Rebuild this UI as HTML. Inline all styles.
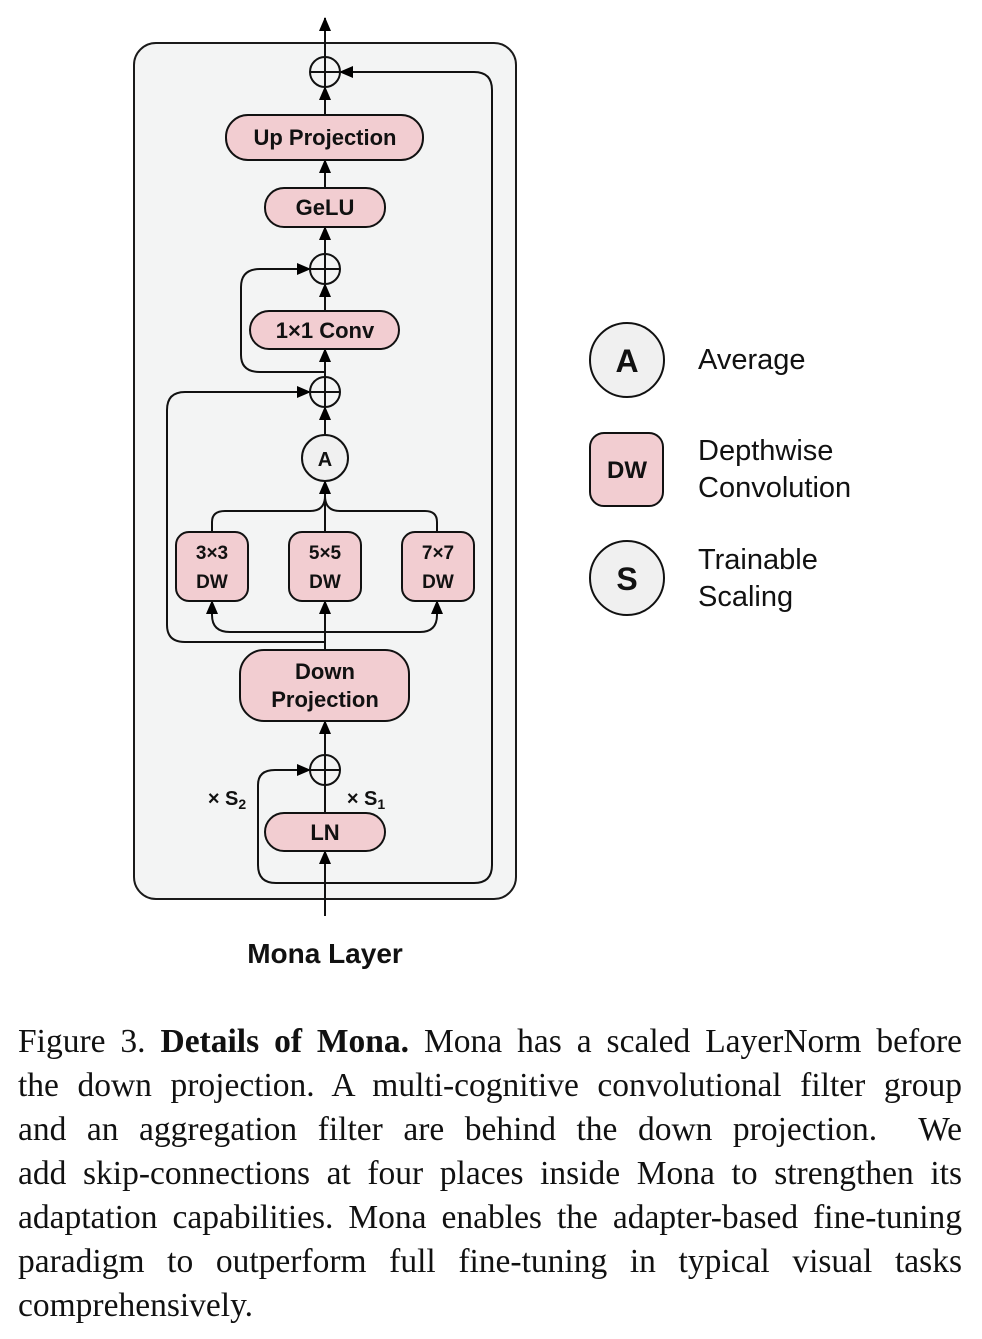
<!DOCTYPE html>
<html><head><meta charset="utf-8"><style>
body{margin:0;background:#fff;width:982px;height:1339px;overflow:hidden;position:relative}
svg{position:absolute;left:0;top:0}
.cap{position:absolute;left:18px;top:1020px;width:944px;font-family:"Liberation Serif",serif;font-size:33.5px;line-height:44px;color:#111}
.cap div{text-align:justify;text-align-last:justify;white-space:nowrap}
.cap div.l{text-align-last:left}
</style></head><body>
<svg width="982" height="1000" viewBox="0 0 982 1000">
<defs>
<marker id="a2" viewBox="0 0 14 14" markerWidth="14" markerHeight="14" refX="13" refY="7" orient="auto" markerUnits="userSpaceOnUse"><path d="M0,1 L14,7 L0,13 z" fill="#000"/></marker></defs>
<rect x="134" y="43" width="382" height="856" rx="22" fill="#f3f4f4" stroke="#1a1a1a" stroke-width="2"/>
<g stroke="#111" stroke-width="2" fill="none" font-family="Liberation Sans,sans-serif">
<line x1="325" y1="916" x2="325" y2="851" marker-end="url(#a2)"/>
<line x1="325" y1="813" x2="325" y2="785"/>
<line x1="325" y1="755" x2="325" y2="721" marker-end="url(#a2)"/>
<line x1="325" y1="650" x2="325" y2="601" marker-end="url(#a2)"/>
<path d="M325,632 H230 Q212,632 212,615 V601" marker-end="url(#a2)"/>
<path d="M325,632 H420 Q437,632 437,615 V601" marker-end="url(#a2)"/>
<path d="M325,642 H185 Q167,642 167,625 V410 Q167,392 185,392 H310" marker-end="url(#a2)"/>
<path d="M212,532 V522 Q212,511 225,511 H310 Q325,511 325,496"/>
<path d="M437,532 V522 Q437,511 425,511 H340 Q325,511 325,496"/>
<line x1="325" y1="532" x2="325" y2="481" marker-end="url(#a2)"/>
<line x1="325" y1="435" x2="325" y2="407" marker-end="url(#a2)"/>
<line x1="325" y1="377" x2="325" y2="349" marker-end="url(#a2)"/>
<path d="M325,372 H260 Q241,372 241,355 V287 Q241,269 260,269 H310" marker-end="url(#a2)"/>
<line x1="325" y1="311" x2="325" y2="284" marker-end="url(#a2)"/>
<line x1="325" y1="254" x2="325" y2="227" marker-end="url(#a2)"/>
<line x1="325" y1="188" x2="325" y2="160" marker-end="url(#a2)"/>
<line x1="325" y1="115" x2="325" y2="87" marker-end="url(#a2)"/>
<line x1="325" y1="57" x2="325" y2="18" marker-end="url(#a2)"/>
<path d="M258,800 V785 Q258,770 275,770 H310" marker-end="url(#a2)"/>
<path d="M258,800 V865 Q258,883 276,883 H474 Q492,883 492,865 V90 Q492,72 474,72 H340" marker-end="url(#a2)"/>
<g fill="#f3f4f4">
<circle cx="325" cy="72" r="15"/><circle cx="325" cy="269" r="15"/><circle cx="325" cy="392" r="15"/><circle cx="325" cy="770" r="15"/>
</g>
<path d="M310,72H340M325,57V87M310,269H340M325,254V284M310,392H340M325,377V407M310,770H340M325,755V785"/>
<circle cx="325" cy="458" r="23" fill="#f0f0f0"/>
<g fill="#f2cdd1">
<rect x="226" y="115" width="197" height="45" rx="22"/>
<rect x="265" y="188" width="120" height="39" rx="19"/>
<rect x="250" y="311" width="149" height="38" rx="19"/>
<rect x="176" y="532" width="72" height="69" rx="13"/>
<rect x="289" y="532" width="72" height="69" rx="13"/>
<rect x="402" y="532" width="72" height="69" rx="13"/>
<rect x="240" y="650" width="169" height="71" rx="24"/>
<rect x="265" y="813" width="120" height="38" rx="19"/>
<rect x="590" y="433" width="73" height="73" rx="14"/>
</g>
<circle cx="627" cy="360" r="37" fill="#f0f0f0"/>
<circle cx="627" cy="578" r="37" fill="#f0f0f0"/>
</g>
<g font-family="Liberation Sans,sans-serif" font-weight="bold" fill="#111" text-anchor="middle" font-size="22">
<text x="325" y="145">Up Projection</text>
<text x="325" y="215">GeLU</text>
<text x="325" y="338">1×1 Conv</text>
<text x="325" y="466" font-size="20">A</text>
<text x="212" y="559" font-size="19">3×3</text><text x="212" y="588" font-size="19">DW</text>
<text x="325" y="559" font-size="19">5×5</text><text x="325" y="588" font-size="19">DW</text>
<text x="438" y="559" font-size="19">7×7</text><text x="438" y="588" font-size="19">DW</text>
<text x="325" y="679">Down</text><text x="325" y="707">Projection</text>
<text x="325" y="840">LN</text>
<text x="227" y="805" font-size="20">× S<tspan font-size="14" dy="4">2</tspan></text>
<text x="366" y="805" font-size="20">× S<tspan font-size="14" dy="4">1</tspan></text>
<text x="325" y="963" font-size="28">Mona Layer</text>
<text x="627" y="372" font-size="32">A</text>
<text x="627" y="478" font-size="24">DW</text>
<text x="627" y="590" font-size="32">S</text>
</g>
<g font-family="Liberation Sans,sans-serif" fill="#111" font-size="29">
<text x="698" y="369">Average</text>
<text x="698" y="460">Depthwise</text><text x="698" y="497">Convolution</text>
<text x="698" y="569">Trainable</text><text x="698" y="606">Scaling</text>
</g>
</svg>
<div class="cap">
<div>Figure 3. <b>Details of Mona.</b> Mona has a scaled LayerNorm before</div>
<div>the down projection. A multi-cognitive convolutional filter group</div>
<div>and an aggregation filter are behind the down projection. &nbsp;We</div>
<div>add skip-connections at four places inside Mona to strengthen its</div>
<div>adaptation capabilities. Mona enables the adapter-based fine-tuning</div>
<div>paradigm to outperform full fine-tuning in typical visual tasks</div>
<div class="l">comprehensively.</div>
</div>
</body></html>
